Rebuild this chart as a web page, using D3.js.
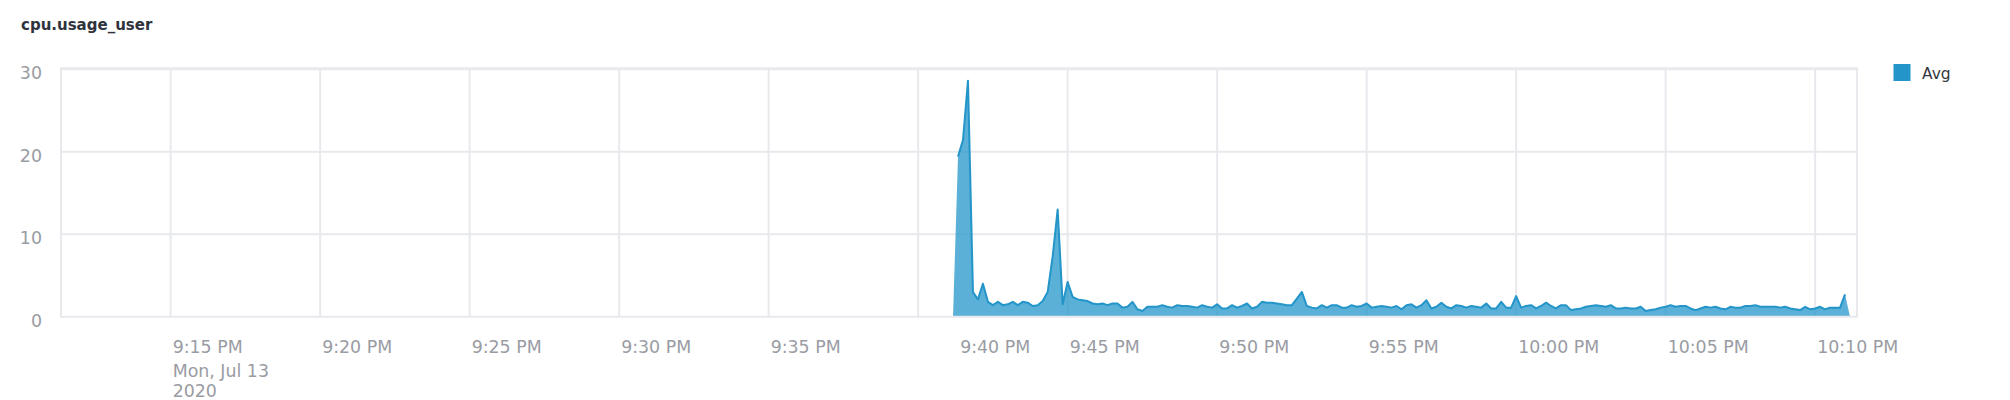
<!DOCTYPE html>
<html>
<head>
<meta charset="utf-8">
<script src="https://cdn.jsdelivr.net/npm/d3@7"></script>
<style>
  html, body { margin: 0; padding: 0; background: #ffffff; }
  svg { display: block; }
  text { font-family: "DejaVu Sans", "Liberation Sans", sans-serif; }
</style>
</head>
<body>
<svg id="chart" width="2010" height="400"></svg>
<script>
// ---------------- data ----------------
const chartTitle = "cpu.usage_user";
const seriesName = "Avg";
// first sample time (UTC used as wall clock) and sampling interval
const firstSample = Date.UTC(2020, 6, 13, 21, 41, 20);
const sampleSeconds = 10;
// visible time window
const windowStart = Date.UTC(2020, 6, 13, 21, 11, 20);
const windowEnd = Date.UTC(2020, 6, 13, 22, 11, 24);
const yTickValues = [0, 10, 20, 30];
// Avg values, one every 10 s
const avgValues = [
  19.4, 21.4, 28.6, 3.0, 2.1, 4.0, 1.8, 1.4, 1.8, 1.4,
  1.5, 1.8, 1.4, 1.8, 1.7, 1.3, 1.4, 1.9, 3.0, 7.3,
  13.0, 1.5, 4.2, 2.4, 2.1, 2.0, 1.9, 1.6, 1.5, 1.6,
  1.4, 1.6, 1.6, 1.1, 1.2, 1.8, 0.9, 0.7, 1.2, 1.2,
  1.2, 1.4, 1.2, 1.1, 1.4, 1.3, 1.3, 1.2, 1.1, 1.4,
  1.2, 1.1, 1.5, 1.0, 1.0, 1.4, 1.1,
  1.3, 1.6, 1.0, 1.2, 1.8, 1.7, 1.7, 1.6, 1.5, 1.4, 1.4, 2.2, 3.0,
  1.3, 1.1, 1.0, 1.4, 1.1, 1.4, 1.4, 1.1, 1.1, 1.4,
  1.2, 1.3, 1.6, 1.1, 1.2, 1.3, 1.2, 1.1, 1.3, 0.9,
  1.4, 1.5, 1.1, 1.4, 2.0, 1.0, 1.2, 1.7, 1.2, 1.0,
  1.4, 1.3, 1.1, 1.3, 1.2, 1.1, 1.6, 1.0, 1.0, 1.8,
  1.1, 1.1,
  2.5, 1.1, 1.3, 1.4, 1.0, 1.3, 1.7, 1.3, 1.0, 1.4,
  1.4, 0.8, 0.9, 1.0, 1.2, 1.3, 1.4, 1.3, 1.2, 1.4,
  1.0, 1.0, 1.1, 1.0, 1.0, 1.2, 0.7, 0.8, 0.9, 1.1,
  1.2, 1.4, 1.2, 1.3,
  1.3, 1.0, 0.8, 1.0, 1.2, 1.1, 1.2, 1.0, 0.9, 1.2,
  1.1, 1.1, 1.3, 1.3, 1.4, 1.2, 1.2, 1.2, 1.2, 1.1,
  1.2, 1.0, 0.9, 0.8, 1.2, 0.9, 1.0, 1.2, 0.9, 1.1,
  1.1, 1.1, 2.7
];

// ---------------- layout ----------------
const plot = { left: 61, right: 1857, top: 69.2, bottom: 316.7 };
const gridColor = "#e7e9ed";
const lineColor = "#2395c9";
const tickColor = "#9a9ca3";

const svg = d3.select("#chart");

const data = avgValues.map((v, i) => ({ t: new Date(firstSample + i * sampleSeconds * 1000), v }));

const x = d3.scaleUtc().domain([new Date(windowStart), new Date(windowEnd)]).range([plot.left, plot.right]);
const y = d3.scaleLinear().domain([0, 30]).range([plot.bottom, plot.top]);

// title
svg.append("text")
  .attr("x", 21).attr("y", 30)
  .attr("font-size", 15).attr("font-weight", "bold")
  .attr("fill", "#2f343c")
  .text(chartTitle);

// horizontal grid
svg.append("g").selectAll("line")
  .data(yTickValues.filter(d => d > 0 && d < 30))
  .join("line")
  .attr("x1", plot.left).attr("x2", plot.right)
  .attr("y1", d => y(d)).attr("y2", d => y(d))
  .attr("stroke", gridColor).attr("stroke-width", 2);

// vertical grid
const xTicks = x.ticks(d3.utcMinute.every(5));
svg.append("g").selectAll("line")
  .data(xTicks)
  .join("line")
  .attr("x1", d => x(d)).attr("x2", d => x(d))
  .attr("y1", plot.top).attr("y2", plot.bottom)
  .attr("stroke", gridColor).attr("stroke-width", 2);

// area (closed to baseline one sample beyond each end)
const areaPts = [
  { t: new Date(+data[0].t - sampleSeconds * 1000), v: 0 },
  ...data,
  { t: new Date(+data[data.length - 1].t + sampleSeconds * 1000), v: 0 }
];
svg.append("path")
  .datum(areaPts)
  .attr("d", d3.area().x(d => x(d.t)).y0(y(0)).y1(d => y(d.v)))
  .attr("fill", lineColor).attr("fill-opacity", 0.75);

svg.append("path")
  .datum(data)
  .attr("d", d3.line().x(d => x(d.t)).y(d => y(d.v)))
  .attr("fill", "none").attr("stroke", lineColor)
  .attr("stroke-width", 2).attr("stroke-linejoin", "round");

// frame
svg.append("line").attr("x1", plot.left - 1).attr("x2", plot.right + 1)
  .attr("y1", plot.top - 0.5).attr("y2", plot.top - 0.5)
  .attr("stroke", gridColor).attr("stroke-width", 3);
svg.append("line").attr("x1", plot.left - 1).attr("x2", plot.right + 1)
  .attr("y1", plot.bottom).attr("y2", plot.bottom)
  .attr("stroke", gridColor).attr("stroke-width", 2);
svg.append("line").attr("x1", plot.left).attr("x2", plot.left)
  .attr("y1", plot.top).attr("y2", plot.bottom)
  .attr("stroke", gridColor).attr("stroke-width", 2);
svg.append("line").attr("x1", plot.right).attr("x2", plot.right)
  .attr("y1", plot.top).attr("y2", plot.bottom)
  .attr("stroke", gridColor).attr("stroke-width", 2);

// y labels
svg.append("g").selectAll("text")
  .data(yTickValues)
  .join("text")
  .attr("x", 42).attr("y", d => y(d) + 10)
  .attr("text-anchor", "end")
  .attr("font-size", 17.4).attr("fill", tickColor)
  .text(d => d);

// x labels
const fmtTime = d3.utcFormat("%-I:%M %p");
const fmtDay = d3.utcFormat("%a, %b %-d");
const fmtYear = d3.utcFormat("%Y");
const labelShift = { "9:40 PM": 40 };
const xl = svg.append("g").selectAll("text")
  .data(xTicks)
  .join("text")
  .attr("x", d => x(d) + 2 + (labelShift[fmtTime(d)] || 0))
  .attr("y", 352.5)
  .attr("font-size", 17.4).attr("fill", tickColor);
xl.append("tspan").text(d => fmtTime(d));
xl.filter((d, i) => i === 0).append("tspan")
  .attr("x", d => x(d) + 2).attr("dy", 24).text(d => fmtDay(d));
xl.filter((d, i) => i === 0).append("tspan")
  .attr("x", d => x(d) + 2).attr("dy", 20).text(d => fmtYear(d));

// legend
svg.append("rect").attr("x", 1893.5).attr("y", 64).attr("width", 17).attr("height", 17)
  .attr("fill", lineColor);
svg.append("text").attr("x", 1922).attr("y", 79)
  .attr("font-size", 15.5).attr("fill", "#333840")
  .text(seriesName);
</script>
</body>
</html>
